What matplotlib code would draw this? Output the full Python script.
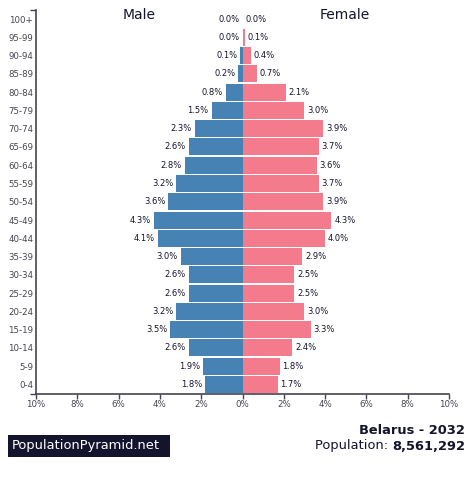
import matplotlib
matplotlib.use("Agg")
import matplotlib.pyplot as plt

ages = ["0-4","5-9","10-14","15-19","20-24","25-29","30-34","35-39","40-44","45-49","50-54",
        "55-59","60-64","65-69","70-74","75-79","80-84","85-89","90-94","95-99","100+"]
male = [1.8,1.9,2.6,3.5,3.2,2.6,2.6,3.0,4.1,4.3,3.6,3.2,2.8,2.6,2.3,1.5,0.8,0.2,0.1,0.0,0.0]
female = [1.7,1.8,2.4,3.3,3.0,2.5,2.5,2.9,4.0,4.3,3.9,3.7,3.6,3.7,3.9,3.0,2.1,0.7,0.4,0.1,0.0]
ticks = [-10,-8,-6,-4,-2,0,2,4,6,8,10]
tick_labels = ["10%","8%","6%","4%","2%","0%","2%","4%","6%","8%","10%"]
country_year = "Belarus - 2032"
population = "8,561,292"

W, H = 474, 478
DARK = "#14142e"
GREY = "#444450"
fig = plt.figure(figsize=(W/100, H/100), dpi=100)
ax = fig.add_axes([36/W, 1-393.5/H, (449/1-36)/W, (393.5-10)/H])
ypos = list(range(len(ages)))
ax.barh(ypos, [-m for m in male], height=0.93, color="#4682b4", linewidth=0)
ax.barh(ypos, female, height=0.93, color="#f37b8b", linewidth=0)
ax.set_xlim(-10, 10)
ax.set_ylim(-0.5, len(ages)-0.5)
for s in ("top", "right"):
    ax.spines[s].set_visible(False)
for s in ("left", "bottom"):
    ax.spines[s].set_color(GREY)
    ax.spines[s].set_linewidth(1.2)
ax.set_yticks(ypos, ages)
ax.set_yticks([-0.5, len(ages)-0.5], minor=True)
ax.set_xticks(ticks, tick_labels)
ax.tick_params(axis="x", labelsize=6.2, color=GREY, labelcolor=GREY, length=3.5, width=1, pad=1.5)
ax.tick_params(axis="y", which="major", labelsize=6.2, labelcolor=GREY, length=0, pad=2)
ax.tick_params(axis="y", which="minor", color=GREY, length=4, width=1)
for y, (m, f) in enumerate(zip(male, female)):
    ax.text(-m-0.14, y, f"{m:.1f}%", ha="right", va="center", fontsize=6.0, color=DARK)
    ax.text(f+0.14, y, f"{f:.1f}%", ha="left", va="center", fontsize=6.0, color=DARK)

fig.text(139/W, 1-15/H, "Male", ha="center", va="center", fontsize=10, color=DARK)
fig.text(345/W, 1-15/H, "Female", ha="center", va="center", fontsize=10, color=DARK)
fig.patches.append(plt.Rectangle((8/W, 1-456.5/H), 162/W, 22/H, transform=fig.transFigure,
                                 facecolor=DARK, edgecolor="none", zorder=-1))
fig.text(12/W, 1-445.5/H, "PopulationPyramid.net", ha="left", va="center", fontsize=9.4, color="white")
fig.text(465/W, 1-430.5/H, country_year, ha="right", va="center", fontsize=9.4, fontweight="bold", color=DARK)
t = fig.text(465/W, 1-446/H, population, ha="right", va="center", fontsize=9.4, fontweight="bold", color=DARK)
fig.canvas.draw()
bb = t.get_window_extent()
fig.text(bb.x0/W, 1-446/H, "Population: ", ha="right", va="center", fontsize=9.4, color=DARK)
fig.savefig("out.png", dpi=100)
